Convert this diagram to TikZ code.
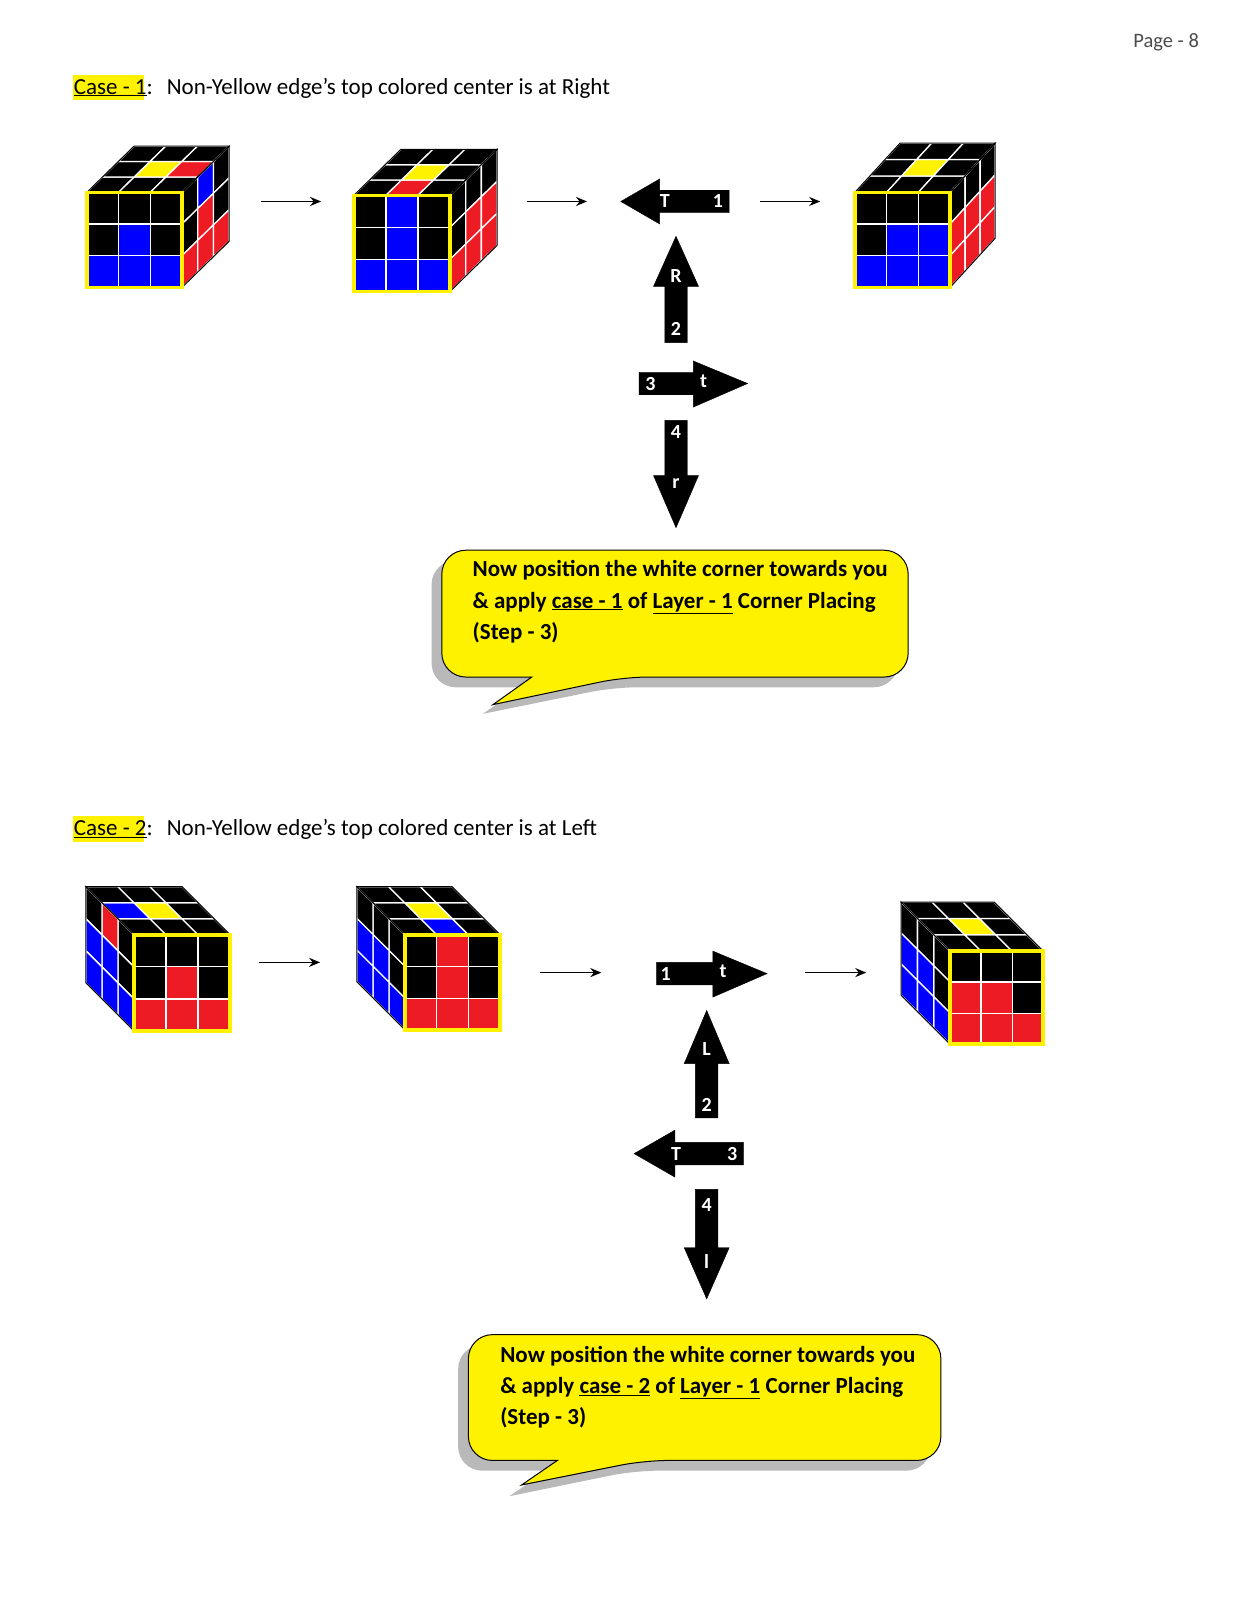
\documentclass[tikz,border=0pt]{standalone}
\usepackage{fontspec}
\setmainfont{Carlito}
\usetikzlibrary{arrows.meta}
\definecolor{cK}{RGB}{0,0,0}
\definecolor{cB}{RGB}{0,0,255}
\definecolor{cR}{RGB}{237,28,36}
\definecolor{cY}{RGB}{255,242,0}
\definecolor{shad}{RGB}{185,185,185}
% #1 x0, #2 y0, #3 s, #4 dx, #5 dy, #6 front, #7 side, #8 top
\newcommand\rubik[8]{%
  \pgfmathsetmacro\bx{#4>0 ? #1+#3 : #1}%
  \foreach \c [count=\k from 0] in {#6} {\pgfmathtruncatemacro\i{mod(\k,3)}\pgfmathtruncatemacro\j{div(\k,3)}
    \filldraw[fill=\c,draw=white,line width=1.3] ({#1+\i*#3/3},{#2+\j*#3/3}) rectangle ++({#3/3},{#3/3});}
  \foreach \c [count=\k from 0] in {#7} {\pgfmathtruncatemacro\i{mod(\k,3)}\pgfmathtruncatemacro\j{div(\k,3)}
    \filldraw[fill=\c,draw=white,line width=1.3] ({\bx+\i*#4/3},{#2+\j*#3/3+\i*#5/3}) -- ++({#4/3},{#5/3}) -- ++(0,{#3/3}) -- ++({-#4/3},{-#5/3}) -- cycle;}
  \foreach \c [count=\k from 0] in {#8} {\pgfmathtruncatemacro\i{mod(\k,3)}\pgfmathtruncatemacro\j{div(\k,3)}
    \filldraw[fill=\c,draw=white,line width=1.3] ({#1+\i*#3/3+\j*#4/3},{#2+\j*#5/3}) -- ++({#3/3},0) -- ++({#4/3},{#5/3}) -- ++({-#3/3},0) -- cycle;}
  \draw[black,line width=1] (#1,#2) -- ++(#4,#5) -- ++(#3,0) -- ++(-#4,-#5);
  \draw[black,line width=1] (\bx,#2) -- ++(#4,#5) -- ++(0,#3) -- ++(-#4,-#5);
  \draw[cY,line width=3.5] (#1,#2) rectangle ++(#3,#3);
}
\tikzset{
  blk/.style={fill=black,draw=black},
  lbl/.style={text=white,font=\fontsize{20}{22}\selectfont\bfseries,inner sep=0},
  conn/.style={-{Stealth[length=11,width=9]},line width=1.6},
  body/.style={font=\fontsize{23}{31.2}\selectfont\bfseries,align=left,anchor=north west,inner sep=0},
  head/.style={font=\fontsize{23}{26}\selectfont,anchor=base west,inner sep=0},
  bubble/.style={fill=cY,draw=black,line width=1}
}
\begin{document}
\begin{tikzpicture}[x=1.0227pt,y=-1.0227pt]
\useasboundingbox (0pt,0pt) rectangle (1237pt,-1600pt);
\fill[white] (0pt,0pt) rectangle (1237pt,-1600pt);
\node[font=\fontsize{20.5}{23}\selectfont,text=black!70,anchor=base west,inner sep=0] (page) at (1108,46) {Page - 8};

% ---------------- Case 1
\fill[cY] (71,73) rectangle (141,98);
\node[head] (c1) at (72,92) {\underline{Case - 1}:\hspace{14pt}Non-Yellow edge’s top colored center is at Right};

\rubik{85}{188}{93}{46}{-45}{cK,cK,cK,cK,cB,cK,cB,cB,cB}{cK,cB,cK,cK,cR,cK,cR,cR,cR}{cK,cK,cK,cK,cY,cR,cK,cK,cK}
\rubik{346}{191}{94}{46}{-45}{cK,cB,cK,cK,cB,cK,cB,cB,cB}{cK,cK,cK,cK,cR,cR,cR,cR,cR}{cK,cR,cK,cK,cY,cK,cK,cK,cK}
\rubik{836}{188}{93}{44}{-48}{cK,cK,cK,cK,cB,cB,cB,cB,cB}{cK,cK,cK,cR,cR,cR,cR,cR,cR}{cK,cK,cK,cK,cY,cK,cK,cK,cK}

\coordinate (p1) at (255,197); \coordinate (p2) at (314,197);
\coordinate (p3) at (515,197); \coordinate (p4) at (574,197);
\coordinate (p5) at (743,197); \coordinate (p6) at (802,197);
\draw[conn] (p1) -- (p2); \draw[conn] (p3) -- (p4); \draw[conn] (p5) -- (p6);

\draw[blk] (607,197) -- (645,175) -- (645,186) -- (713,186) -- (713,208) -- (645,208) -- (645,219) -- cycle;
\node[lbl] (l1a) at (650,197) {T}; \node[lbl] (l1b) at (702,197) {1};
\draw[blk] (661,231) -- (683,280) -- (672,280) -- (672,335) -- (650,335) -- (650,280) -- (639,280) -- cycle;
\node[lbl] (l2a) at (661,270) {R}; \node[lbl] (l2b) at (661,322) {2};
\draw[blk] (731,375) -- (678,353) -- (678,364) -- (625,364) -- (625,386) -- (678,386) -- (678,398) -- cycle;
\node[lbl] (l3a) at (636,375) {3}; \node[lbl] (l3b) at (688,373) {t};
\draw[blk] (661,516) -- (683,465) -- (672,465) -- (672,411) -- (650,411) -- (650,465) -- (639,465) -- cycle;
\node[lbl] (l4a) at (661,422) {4}; \node[lbl] (l4b) at (661,473) {r};

\fill[shad] (422,610) [rounded corners=24] |- (878,548) |- (600,672) [sharp corners] -- (472,698) -- (510,672) [rounded corners=24] -| (422,610) -- cycle;
\draw[bubble] (432,600) [rounded corners=24] |- (888,538) |- (610,662) [sharp corners] -- (482,689) -- (520,662) [rounded corners=24] -| (432,600) -- cycle;
\node[body] (t1) at (462,548) {Now position the white corner towards you\\ \& apply \underline{case - 1} of \underline{Layer - 1} Corner Placing\\ (Step - 3)};

% ---------------- Case 2
\fill[cY] (71,798) rectangle (141,823);
\node[head] (c2) at (72,817) {\underline{Case - 2}:\hspace{14pt}Non-Yellow edge’s top colored center is at Left};

\rubik{131}{914}{94}{-47}{-47}{cK,cK,cK,cK,cR,cK,cR,cR,cR}{cK,cR,cK,cK,cB,cB,cB,cB,cB}{cK,cK,cK,cB,cY,cK,cK,cK,cK}
\rubik{396}{914}{93}{-47}{-47}{cK,cR,cK,cK,cR,cK,cR,cR,cR}{cK,cK,cK,cK,cB,cB,cB,cB,cB}{cK,cB,cK,cK,cY,cK,cK,cK,cK}
\rubik{929}{930}{91}{-48}{-48}{cK,cK,cK,cR,cR,cK,cR,cR,cR}{cK,cK,cK,cK,cB,cB,cB,cB,cB}{cK,cK,cK,cK,cY,cK,cK,cK,cK}

\coordinate (q1) at (253,941); \coordinate (q2) at (313,941);
\coordinate (q3) at (528,951); \coordinate (q4) at (588,951);
\coordinate (q5) at (787,951); \coordinate (q6) at (847,951);
\draw[conn] (q1) -- (q2); \draw[conn] (q3) -- (q4); \draw[conn] (q5) -- (q6);

\draw[blk] (750,952) -- (697,930) -- (697,941) -- (642,941) -- (642,963) -- (697,963) -- (697,975) -- cycle;
\node[lbl] (m1a) at (651,952) {1}; \node[lbl] (m1b) at (707,950) {t};
\draw[blk] (691,988) -- (713,1040) -- (702,1040) -- (702,1093) -- (680,1093) -- (680,1040) -- (669,1040) -- cycle;
\node[lbl] (m2a) at (691,1026) {L}; \node[lbl] (m2b) at (691,1080) {2};
\draw[blk] (620,1128) -- (660,1105) -- (660,1117) -- (727,1117) -- (727,1139) -- (660,1139) -- (660,1151) -- cycle;
\node[lbl] (m3a) at (661,1128) {T}; \node[lbl] (m3b) at (716,1128) {3};
\draw[blk] (691,1270) -- (713,1220) -- (702,1220) -- (702,1163) -- (680,1163) -- (680,1220) -- (669,1220) -- cycle;
\node[lbl] (m4a) at (691,1178) {4}; \node[lbl] (m4b) at (691,1233) {l};

\fill[shad] (448,1375) [rounded corners=24] |- (910,1315) |- (620,1438) [sharp corners] -- (498,1463) -- (535,1438) [rounded corners=24] -| (448,1375) -- cycle;
\draw[bubble] (458,1365) [rounded corners=24] |- (920,1305) |- (630,1428) [sharp corners] -- (510,1452) -- (545,1428) [rounded corners=24] -| (458,1365) -- cycle;
\node[body] (t2) at (489,1316) {Now position the white corner towards you\\ \& apply \underline{case - 2} of \underline{Layer - 1} Corner Placing\\ (Step - 3)};
\end{tikzpicture}
\end{document}
